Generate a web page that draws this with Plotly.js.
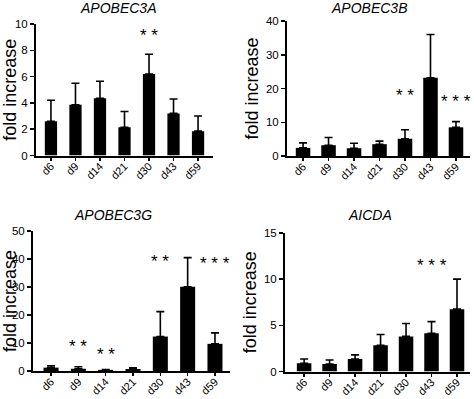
<!DOCTYPE html>
<html>
<head>
<meta charset="utf-8">
<script src="https://cdn.plot.ly/plotly-3.0.1.min.js"></script>
<style>html,body{margin:0;padding:0;background:#fff;}#chart{width:474px;height:399px;}</style>
</head>
<body>
<div id="chart"></div>
<script>
const categories = ['d6','d9','d14','d21','d30','d43','d59'];

const titles = ['APOBEC3A','APOBEC3B','APOBEC3G','AICDA'];

const a3aMean = [2.6, 3.85, 4.35, 2.15, 6.2, 3.2, 1.85];
const a3aErr  = [1.6, 1.65, 1.3, 1.2, 1.5, 1.1, 1.15];

const a3bMean = [2.4, 3.2, 2.3, 3.5, 5.1, 23.2, 8.5];
const a3bErr  = [1.5, 2.3, 1.5, 0.9, 2.7, 12.8, 1.7];

const a3gMean = [1.2, 0.8, 0.4, 0.7, 12.3, 30.1, 9.7];
const a3gErr  = [0.7, 0.7, 0.15, 0.4, 8.9, 10.4, 3.9];

const aicdaMean = [0.9, 0.8, 1.35, 2.85, 3.8, 4.15, 6.75];
const aicdaErr  = [0.45, 0.45, 0.45, 1.15, 1.4, 1.25, 3.25];

// significance marks: [category, label, y position in data units]
const a3aStars = [['d30','**',9.1]];
const a3bStars = [['d30','**',18],['d43','***',42],['d59','***',16]];
const a3gStars = [['d9','**',8.6],['d14','**',6],['d30','**',39],['d43','***',52.4],['d59','***',38.3]];
const aicdaStars = [['d43','***',11.5]];

const yMax = [10, 40, 50, 15];
const yDtick = [2, 10, 10, 5];

const W = 474, H = 399;
const px = v => v / W;
const py = v => 1 - v / H;

const panels = [
  {mean:a3aMean, err:a3aErr, stars:a3aStars, xd:[36,213], y0:155.5, y1:24, xr:[-0.61,6.61], bw:0.5, tx:118, ty:8},
  {mean:a3bMean, err:a3bErr, stars:a3bStars, xd:[287,470], y0:156, y1:21, xr:[-0.63,6.55], bw:0.57, tx:369, ty:8},
  {mean:a3gMean, err:a3gErr, stars:a3gStars, xd:[33,230], y0:371, y1:231, xr:[-0.66,6.55], bw:0.55, tx:113, ty:215},
  {mean:aicdaMean, err:aicdaErr, stars:aicdaStars, xd:[285,470], y0:371.5, y1:233, xr:[-0.75,6.51], bw:0.57, tx:370, ty:215}
];

const data = [];
const layout = {
  width: W, height: H,
  margin: {l:0, r:0, t:0, b:0},
  paper_bgcolor: '#fff', plot_bgcolor: '#fff',
  showlegend: false,
  font: {family: 'Liberation Sans, Arial, sans-serif', color: '#000', size: 12},
  annotations: []
};

panels.forEach((p, i) => {
  const n = i === 0 ? '' : String(i + 1);
  data.push({
    type: 'bar',
    x: categories,
    y: p.mean,
    xaxis: 'x' + n,
    yaxis: 'y' + n,
    width: p.bw,
    marker: {color: '#000'},
    error_y: {type: 'data', array: p.err, arrayminus: p.err.map(() => 0), symmetric: false,
              color: '#000', thickness: 1.6, width: 4},
    hoverinfo: 'none'
  });
  layout['xaxis' + n] = {
    domain: [px(p.xd[0]), px(p.xd[1])],
    anchor: 'y' + n,
    type: 'category',
    range: p.xr,
    showline: true, linecolor: '#000', linewidth: 2,
    ticks: 'outside', ticklen: 3, tickwidth: 1.5, tickcolor: '#000',
    tickangle: -45,
    ticklabelstandoff: -5,
    tickfont: {size: 11},
    showgrid: false, zeroline: false, fixedrange: true
  };
  layout['yaxis' + n] = {
    domain: [py(p.y0), py(p.y1)],
    anchor: 'x' + n,
    range: [0, yMax[i]],
    dtick: yDtick[i],
    showline: true, linecolor: '#000', linewidth: 2,
    ticks: 'outside', ticklen: 4, tickwidth: 1.5, tickcolor: '#000',
    tickfont: {size: 11.5},
    showgrid: false, zeroline: false, fixedrange: true,
    title: {text: 'fold increase', font: {size: 18}, standoff: 3}
  };
  layout.annotations.push({
    xref: 'paper', yref: 'paper',
    x: px(p.tx), y: py(p.ty),
    xanchor: 'center', yanchor: 'middle',
    text: '<i>' + titles[i] + '</i>',
    showarrow: false,
    font: {size: 14}
  });
  p.stars.forEach(s => {
    layout.annotations.push({
      xref: 'x' + n, yref: 'y' + n,
      x: s[0], y: s[2],
      xanchor: 'center', yanchor: 'middle',
      text: s[1].split('').join(' '),
      showarrow: false,
      font: {size: 17}
    });
  });
});

Plotly.newPlot('chart', data, layout, {displayModeBar: false, staticPlot: true});
</script>
</body>
</html>
